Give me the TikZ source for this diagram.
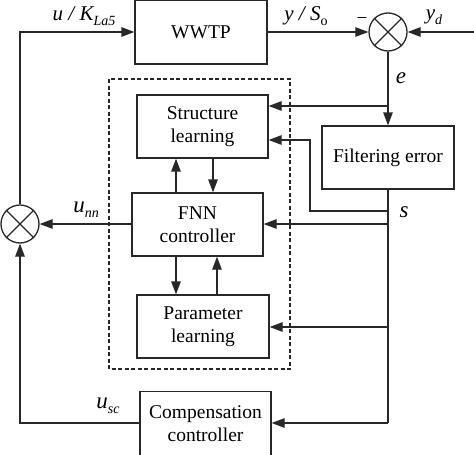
\documentclass[tikz,border=0pt]{standalone}
\usepackage{fontspec}
\setmainfont{Liberation Serif}
\usetikzlibrary{arrows.meta}
\newcommand\sbx[1]{\raisebox{-0.5ex}{\fontsize{14}{14}\selectfont #1}}
\begin{document}
\begin{tikzpicture}[x=1pt,y=-1pt,
  line width=1.3pt, draw={rgb,255:red,40;green,40;blue,40},
  every node/.style={font=\fontsize{19.5}{22.5}\selectfont, text=black},
  blk/.style={draw, line width=1.3pt, align=center, inner sep=0pt},
  arr/.style={-{Triangle[length=13pt,width=9.5pt]}},
  sumc/.style={draw, circle, minimum size=38pt, inner sep=0pt, line width=1.3pt},
  lbl/.style={inner sep=0pt, font=\fontsize{21}{24}\selectfont\itshape},
  lbig/.style={inner sep=0pt, font=\fontsize{23}{26}\selectfont\itshape}]
\useasboundingbox (0,0) rectangle (474,455);
% dashed frame
\draw[line width=1.1pt, dash pattern=on 4pt off 2.5pt] (109,79) rectangle (290,369);
% blocks
\node[blk, minimum width=132pt, minimum height=64pt] (wwtp) at (201,32) {WWTP};
\node[blk, minimum width=131pt, minimum height=63pt] (struct) at (202.5,126.5) {Structure\\learning};
\node[blk, minimum width=132pt, minimum height=63pt] (filt) at (388,157.5) {Filtering error};
\node[blk, minimum width=131pt, minimum height=63pt] (fnn) at (197.5,224.5) {FNN\\controller};
\node[blk, minimum width=132pt, minimum height=63pt] (param) at (203,326.5) {Parameter\\learning};
\node[blk, minimum width=131pt, minimum height=64pt] (comp) at (205.5,423.5) {Compensation\\controller};
% summing junctions
\node[sumc] (s1) at (388,32) {};
\draw[line width=1.2pt] (s1.north west) -- (s1.south east) (s1.north east) -- (s1.south west);
\node[sumc] (s2) at (20,224) {};
\draw[line width=1.2pt] (s2.north west) -- (s2.south east) (s2.north east) -- (s2.south west);
% coordinates
\coordinate (yd) at (474,32);
\coordinate (br1) at (388,106);
\coordinate (br2) at (388,211);
\coordinate (k1) at (310,211);
\coordinate (k2) at (310,140);
\coordinate (br3) at (388,224);
\coordinate (br4) at (388,327);
\coordinate (br5) at (388,423);
\coordinate (lc) at (20,32);
\coordinate (lb) at (20,423);
% connectors
\draw[arr] (s2.north) -- (lc) -- (wwtp.west);
\draw[arr] (wwtp.east) -- (s1.west);
\draw[arr] (yd) -- (s1.east);
\draw[arr] (s1.south) -- (filt.north);
\draw[arr] (br1) -- (struct.east |- br1);
\draw (filt.south) -- (br5);
\draw[arr] (br2) -- (k1) -- (k2) -- (struct.east |- k2);
\draw[arr] (br3) -- (fnn.east |- br3);
\draw[arr] (br4) -- (param.east |- br4);
\draw[arr] (br5) -- (comp.east |- br5);
\draw[arr] (fnn.west |- s2) -- (s2.east);
\draw[arr] (comp.west |- lb) -- (lb) -- (s2.south);
\draw[arr] (fnn.north -| 176,0) -- (struct.south -| 176,0);
\draw[arr] (struct.south -| 213,0) -- (fnn.north -| 213,0);
\draw[arr] (fnn.south -| 176,0) -- (param.north -| 176,0);
\draw[arr] (param.north -| 217,0) -- (fnn.south -| 217,0);
% labels
\node[lbl] (lu) at (84,16) {u / K\sbx{La5}};
\node[lbl] (ly) at (306,16) {y / S\sbx{\upshape o}};
\node[inner sep=0pt] (lm) at (362,21) {\textminus};
\node[lbl] (lyd) at (434,17) {y\sbx{d}};
\node[lbig] (le) at (401,78) {e};
\node[lbig] (ls) at (404,212) {s};
\node[lbig] (lnn) at (86,210) {u\sbx{nn}};
\node[lbig] (lsc) at (108,406) {u\sbx{sc}};
\end{tikzpicture}
\end{document}
